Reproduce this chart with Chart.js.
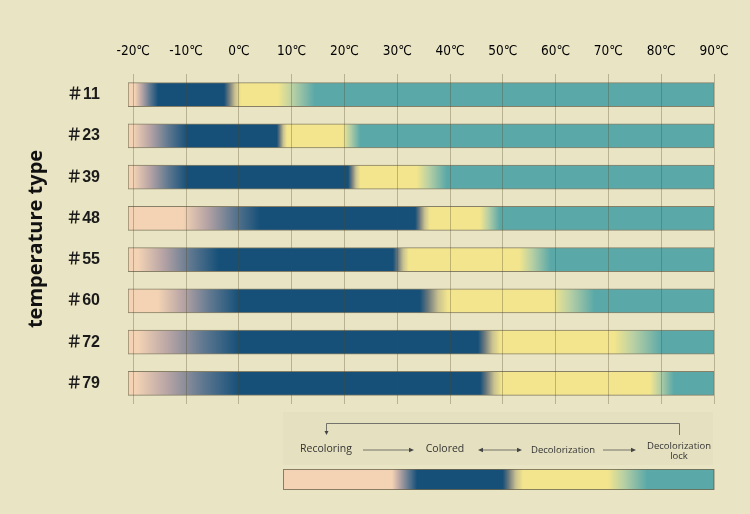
<!DOCTYPE html>
<html>
<head>
<meta charset="utf-8">
<script src="https://cdn.jsdelivr.net/npm/chart.js@4.4.1/dist/chart.umd.min.js"></script>
<style>
  html, body { margin: 0; padding: 0; background: #e9e4c4; }
  canvas { display: block; }
</style>
</head>
<body>
<canvas id="grafico" width="750" height="514"></canvas>
<script>
// temperature types (rows)
const types = ['＃11', '＃23', '＃39', '＃48', '＃55', '＃60', '＃72', '＃79'];

// x axis ticks, in ℃
const tickTemps = [-20, -10, 0, 10, 20, 30, 40, 50, 60, 70, 80, 90];
const rangeMin = -21;
const rangeMax = 90;

// where each state ends / begins, in ℃
const recolorEnd   = [-19.7, -20, -20, -10.6, -19.1, -15.3, -19.1, -19.5];
const coloredStart = [-15.3, -9.8, -9.8, 4, -3.8, 0, 0, 0];
const coloredEnd   = [-2.8, 7.2, 20.7, 33.4, 29.2, 34.3, 45.3, 45.7];
const decolorStart = [0.4, 9.1, 23, 36.2, 32.2, 39.6, 49.5, 49.8];
const decolorEnd   = [7.4, 19.7, 33.7, 45.7, 53.1, 59.5, 71.1, 77.9];
const lockStart    = [14.4, 23, 39.4, 49.5, 59.1, 67.4, 80.2, 82.4];

// state colours
const cPeach = '#f3d3b4';
const cBlue = '#165079';
const cYellow = '#f2e58d';
const cTeal = '#5aa8a8';
const bg = '#e9e4c4';

// gradient for each bar, stops placed through the x scale
function barGradient(c) {
    const chart = c.chart;
    if (!chart.chartArea || c.dataIndex === undefined) return cTeal;
    const x = chart.scales.x;
    const i = c.dataIndex;
    const x0 = x.getPixelForValue(rangeMin);
    const x1 = x.getPixelForValue(rangeMax);
    const f = v => Math.min(1, Math.max(0, (x.getPixelForValue(v) - x0) / (x1 - x0)));
    const g = chart.ctx.createLinearGradient(x0, 0, x1, 0);
    const a = f(recolorEnd[i]), b = f(coloredStart[i]);
    const d = f(coloredEnd[i]), e = f(decolorStart[i]);
    const h = f(decolorEnd[i]), k = f(lockStart[i]);
    g.addColorStop(0, cPeach);
    g.addColorStop(a, cPeach);
    g.addColorStop(a + (b - a) * 0.3, '#b9a5a5');
    g.addColorStop(a + (b - a) * 0.65, '#5f7890');
    g.addColorStop(b, cBlue);
    g.addColorStop(d, cBlue);
    g.addColorStop(d + (e - d) * 0.3, '#6f7a7c');
    g.addColorStop(d + (e - d) * 0.65, '#c9c190');
    g.addColorStop(e, cYellow);
    g.addColorStop(h, cYellow);
    g.addColorStop(h + (k - h) * 0.4, '#b9d0a4');
    g.addColorStop(k, cTeal);
    g.addColorStop(1, cTeal);
    return g;
}

// background colour of the page
const fundo = {
    id: 'fundo',
    beforeDraw(chart) {
        const ctx = chart.ctx;
        ctx.save();
        ctx.fillStyle = bg;
        ctx.fillRect(0, 0, chart.width, chart.height);
        ctx.restore();
    }
};

function seta(ctx, x, y, dir) {
    ctx.beginPath();
    if (dir === 'right') { ctx.moveTo(x, y); ctx.lineTo(x - 5, y - 2.2); ctx.lineTo(x - 5, y + 2.2); }
    if (dir === 'left') { ctx.moveTo(x, y); ctx.lineTo(x + 5, y - 2.2); ctx.lineTo(x + 5, y + 2.2); }
    if (dir === 'down') { ctx.moveTo(x, y); ctx.lineTo(x - 2, y - 4); ctx.lineTo(x + 2, y - 4); }
    ctx.closePath();
    ctx.fill();
}

// state diagram + colour bar under the chart
const legenda = {
    id: 'legenda',
    afterDraw(chart) {
        const ctx = chart.ctx;
        ctx.save();
        ctx.fillStyle = '#e5e0bf';
        ctx.fillRect(283, 412, 430, 53);

        ctx.strokeStyle = '#555';
        ctx.fillStyle = '#444';
        ctx.lineWidth = 0.8;
        ctx.beginPath();
        ctx.moveTo(679.5, 435); ctx.lineTo(679.5, 423.5); ctx.lineTo(326.5, 423.5); ctx.lineTo(326.5, 432);
        ctx.stroke();
        seta(ctx, 326.5, 435, 'down');

        ctx.beginPath();
        ctx.moveTo(363, 450); ctx.lineTo(410, 450);
        ctx.moveTo(482, 450); ctx.lineTo(518, 450);
        ctx.moveTo(603, 450); ctx.lineTo(632, 450);
        ctx.stroke();
        seta(ctx, 414, 450, 'right');
        seta(ctx, 478, 450, 'left');
        seta(ctx, 522, 450, 'right');
        seta(ctx, 636, 450, 'right');

        ctx.fillStyle = '#333';
        ctx.textAlign = 'center';
        ctx.textBaseline = 'middle';
        ctx.font = '10.5px "Open Sans", sans-serif';
        ctx.fillText('Recoloring', 326, 449);
        ctx.fillText('Colored', 445, 449);
        ctx.font = '9.5px "Open Sans", sans-serif';
        ctx.fillText('Decolorization', 563, 450.5);
        ctx.fillText('Decolorization', 679, 446);
        ctx.fillText('lock', 679, 456.5);

        const g = ctx.createLinearGradient(283, 0, 714, 0);
        g.addColorStop(0, cPeach);
        g.addColorStop(0.253, cPeach);
        g.addColorStop(0.27, '#b9a5a5');
        g.addColorStop(0.292, '#5f7890');
        g.addColorStop(0.311, cBlue);
        g.addColorStop(0.51, cBlue);
        g.addColorStop(0.524, '#6f7a7c');
        g.addColorStop(0.54, '#c9c190');
        g.addColorStop(0.557, cYellow);
        g.addColorStop(0.754, cYellow);
        g.addColorStop(0.79, '#b9d0a4');
        g.addColorStop(0.845, cTeal);
        g.addColorStop(1, cTeal);
        ctx.fillStyle = g;
        ctx.fillRect(283.5, 469.5, 430.5, 20);
        ctx.strokeStyle = 'rgba(70,62,40,0.6)';
        ctx.lineWidth = 1;
        ctx.strokeRect(283.5, 469.5, 430.5, 20);
        ctx.restore();
    }
};

const ctx = document.getElementById('grafico').getContext('2d');

let grafico = new Chart(ctx, {
    type: 'bar',
    data: {
        labels: types,
        datasets: [{
            data: types.map(() => [rangeMin, rangeMax]),
            backgroundColor: barGradient,
            borderColor: 'rgba(70,62,40,0.6)',
            borderWidth: 1,
            borderSkipped: false,
            barThickness: 24
        }]
    },
    options: {
        indexAxis: 'y',
        responsive: false,
        devicePixelRatio: 1,
        animation: false,
        layout: {
            padding: { left: 0, top: 0, right: 36, bottom: 110 }
        },
        plugins: {
            legend: { display: false },
            tooltip: { enabled: false }
        },
        scales: {
            x: {
                type: 'linear',
                position: 'top',
                min: rangeMin,
                max: rangeMax,
                afterBuildTicks: s => { s.ticks = tickTemps.map(v => ({ value: v })); },
                afterFit: s => { s.height = 74; },
                ticks: {
                    callback: v => v + '℃',
                    color: '#000',
                    padding: 14,
                    maxRotation: 0,
                    autoSkip: false,
                    font: { family: "'Liberation Sans Narrow', 'DejaVu Sans Condensed', sans-serif", size: 13.5 }
                },
                grid: {
                    color: 'rgba(80,70,40,0.32)',
                    lineWidth: 1,
                    drawTicks: false,
                    z: 1
                },
                border: { display: false }
            },
            y: {
                afterFit: s => { s.width = 128; },
                ticks: {
                    color: '#1a1a1a',
                    padding: 28,
                    font: { family: "'Liberation Sans', 'Noto Sans CJK JP', sans-serif", size: 16, weight: 'bold' }
                },
                grid: { display: false, drawTicks: false },
                border: { display: false },
                title: {
                    display: true,
                    text: 'temperature type',
                    color: '#111',
                    padding: { top: 24, bottom: 0 },
                    font: { family: "'Open Sans', sans-serif", size: 20, weight: 'bold' }
                }
            }
        }
    },
    plugins: [fundo, legenda]
});
</script>
</body>
</html>
